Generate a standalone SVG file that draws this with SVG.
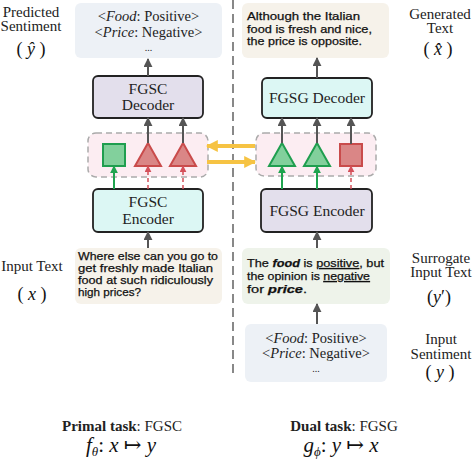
<svg xmlns="http://www.w3.org/2000/svg" width="474" height="460" viewBox="0 0 474 460">
<style>
.lbl{font-family:"Liberation Serif","Times New Roman",serif;font-size:15px;fill:#222;text-anchor:middle}
.math{font-family:"Liberation Serif","DejaVu Serif",serif;font-size:18px;fill:#111;text-anchor:middle}
.fm{font-family:"Liberation Serif","DejaVu Serif",serif;font-size:21px;fill:#111;text-anchor:middle}
.box{font-family:"Liberation Serif","Times New Roman",serif;font-size:14.5px;fill:#222;text-anchor:middle}
.mod{font-family:"Liberation Serif","Times New Roman",serif;font-size:15.5px;fill:#222;text-anchor:middle}
.cm{font-family:"Liberation Sans",Arial,sans-serif;font-size:11px;fill:#111;stroke:#111;stroke-width:0.25}
.sent{fill:#edf1f6}
.beige{fill:#f6f2ea}
.lav{fill:#e3dfec;stroke:#222;stroke-width:1.8}
.cyan{fill:#dcf7f4;stroke:#222;stroke-width:1.8}
.pink{fill:#fcedf2;stroke:#aaa;stroke-width:1.5;stroke-dasharray:6 4}
.gshape{fill:#82d09c;stroke:#1f9e4f;stroke-width:2}
.rshape{fill:#da8686;stroke:#c94b4b;stroke-width:2}
.ga{stroke:#555;stroke-width:2;fill:none}
.gr{stroke:#1fa34f;stroke-width:2;fill:none}
.rd{stroke:#d4505a;stroke-width:1.5;stroke-dasharray:4 3;fill:none}
.ye{stroke:#f6c343;stroke-width:4;fill:none}
</style>
<defs>
<marker id="mg" viewBox="0 0 10 10" refX="9" refY="5" markerWidth="9" markerHeight="9" markerUnits="userSpaceOnUse" orient="auto"><path d="M0,0 L10,5 L0,10 z" fill="#555"/></marker>
<marker id="mgr" viewBox="0 0 10 10" refX="9" refY="5" markerWidth="8" markerHeight="8" markerUnits="userSpaceOnUse" orient="auto"><path d="M0,0 L10,5 L0,10 z" fill="#1fa34f"/></marker>
<marker id="mr" viewBox="0 0 10 10" refX="9" refY="5" markerWidth="7" markerHeight="7" markerUnits="userSpaceOnUse" orient="auto"><path d="M0,0 L10,5 L0,10 z" fill="#d4505a"/></marker>
<marker id="my" viewBox="0 0 10 10" refX="9" refY="5" markerWidth="12" markerHeight="12" markerUnits="userSpaceOnUse" orient="auto"><path d="M0,0 L10,5 L0,10 z" fill="#f6c343"/></marker>
</defs>

<g id="divider"><line x1="233" y1="0" x2="233" y2="373" stroke="#888" stroke-width="2" stroke-dasharray="9 5"/></g>

<g id="labels">
<text class="lbl"><tspan x="31" y="16.5">Predicted</tspan><tspan x="31" y="31">Sentiment</tspan></text>
<text class="math" x="31" y="55">( <tspan font-style="italic">ŷ</tspan> )</text>
<text class="lbl" x="32" y="271">Input Text</text>
<text class="math" x="32" y="300">( <tspan font-style="italic">x</tspan> )</text>
<text class="lbl"><tspan x="440" y="18.5">Generated</tspan><tspan x="440" y="33">Text</tspan></text>
<text class="math" x="438" y="55">( <tspan font-style="italic">x̂</tspan> )</text>
<text class="lbl"><tspan x="441" y="262.5">Surrogate</tspan><tspan x="441" y="277">Input Text</tspan></text>
<text class="math" x="439" y="303">(<tspan font-style="italic">y</tspan>′)</text>
<text class="lbl"><tspan x="441" y="344">Input</tspan><tspan x="441" y="358.5">Sentiment</tspan></text>
<text class="math" x="440" y="378">( <tspan font-style="italic">y</tspan> )</text>
</g>

<g id="pred-sentiment">
<rect class="sent" x="75" y="3" width="147" height="55" rx="6"/>
<text class="box"><tspan x="148.5" y="21">&lt;<tspan font-style="italic">Food</tspan>: Positive&gt;</tspan><tspan x="148.5" y="37">&lt;<tspan font-style="italic">Price</tspan>: Negative&gt;</tspan><tspan x="148.5" y="51" font-size="10">...</tspan></text>
</g>

<g id="fgsc-decoder">
<rect class="lav" x="93" y="76" width="110" height="42" rx="5"/>
<text class="mod"><tspan x="148" y="94">FGSC</tspan><tspan x="148" y="110">Decoder</tspan></text>
</g>

<g id="fgsc-latent">
<rect class="pink" x="88" y="133" width="120" height="44" rx="8"/>
<rect class="gshape" x="103" y="144" width="22" height="22"/>
<polygon class="rshape" points="148,143 135,166 161,166"/>
<polygon class="rshape" points="183,143 170,166 196,166"/>
</g>

<g id="fgsc-encoder">
<rect class="cyan" x="93" y="189" width="110" height="43" rx="5"/>
<text class="mod"><tspan x="148" y="207">FGSC</tspan><tspan x="148" y="224">Encoder</tspan></text>
</g>

<g id="input-text">
<rect class="beige" x="75" y="248" width="147" height="56" rx="6"/>
<text class="cm"><tspan x="78" y="259.5" textLength="140" lengthAdjust="spacingAndGlyphs">Where else can you go to</tspan><tspan x="78" y="271.5" textLength="135" lengthAdjust="spacingAndGlyphs">get freshly made Italian</tspan><tspan x="78" y="283.5" textLength="135" lengthAdjust="spacingAndGlyphs">food at such ridiculously</tspan><tspan x="78" y="295.5" textLength="63" lengthAdjust="spacingAndGlyphs">high prices?</tspan></text>
</g>

<g id="generated-text">
<rect class="beige" x="242" y="3" width="147" height="55" rx="6"/>
<text class="cm"><tspan x="247" y="20" textLength="113" lengthAdjust="spacingAndGlyphs">Although the Italian</tspan><tspan x="247" y="32.5" textLength="125" lengthAdjust="spacingAndGlyphs">food is fresh and nice,</tspan><tspan x="247" y="45" textLength="115" lengthAdjust="spacingAndGlyphs">the price is opposite.</tspan></text>
</g>

<g id="fgsg-decoder">
<rect class="cyan" x="262" y="78" width="110" height="40" rx="5"/>
<text class="mod" x="317" y="103">FGSG Decoder</text>
</g>

<g id="fgsg-latent">
<rect class="pink" x="256" y="133" width="120" height="43" rx="8"/>
<polygon class="gshape" points="282,143 269,166 295,166"/>
<polygon class="gshape" points="317,143 304,166 330,166"/>
<rect class="rshape" x="340" y="144" width="22" height="22"/>
</g>

<g id="fgsg-encoder">
<rect class="lav" x="261" y="189" width="111" height="43" rx="5"/>
<text class="mod" x="317" y="216">FGSG Encoder</text>
</g>

<g id="surrogate-text">
<rect x="242" y="248" width="148" height="56" rx="6" fill="#eef3ea"/>
<text class="cm"><tspan x="247" y="267" textLength="137" lengthAdjust="spacingAndGlyphs">The <tspan font-weight="bold" font-style="italic">food</tspan> is <tspan text-decoration="underline">positive</tspan>, but</tspan><tspan x="247" y="280" textLength="123" lengthAdjust="spacingAndGlyphs">the opinion is <tspan text-decoration="underline">negative</tspan></tspan><tspan x="247" y="293" textLength="60" lengthAdjust="spacingAndGlyphs">for <tspan font-weight="bold" font-style="italic">price</tspan>.</tspan></text>
</g>

<g id="input-sentiment">
<rect class="sent" x="245" y="324" width="142" height="58" rx="6"/>
<text class="box"><tspan x="316" y="343">&lt;<tspan font-style="italic">Food</tspan>: Positive&gt;</tspan><tspan x="316" y="358">&lt;<tspan font-style="italic">Price</tspan>: Negative&gt;</tspan><tspan x="316" y="372" font-size="10">...</tspan></text>
</g>

<g id="connectors">
<line class="ga" x1="148" y1="76" x2="148" y2="59" marker-end="url(#mg)"/>
<line class="ga" x1="148" y1="143" x2="148" y2="118" marker-end="url(#mg)"/>
<line class="ga" x1="183" y1="143" x2="183" y2="118" marker-end="url(#mg)"/>
<line class="gr" x1="114" y1="189" x2="114" y2="166" marker-end="url(#mgr)"/>
<line class="rd" x1="148" y1="189" x2="148" y2="166" marker-end="url(#mr)"/>
<line class="rd" x1="183" y1="189" x2="183" y2="166" marker-end="url(#mr)"/>
<line class="ga" x1="148" y1="248" x2="148" y2="232" marker-end="url(#mg)"/>
<line class="ye" x1="255" y1="146" x2="207" y2="146" marker-end="url(#my)"/>
<line class="ye" x1="207" y1="162" x2="255" y2="162" marker-end="url(#my)"/>
<line class="ga" x1="317" y1="78" x2="317" y2="58" marker-end="url(#mg)"/>
<line class="ga" x1="282" y1="143" x2="282" y2="118" marker-end="url(#mg)"/>
<line class="ga" x1="317" y1="143" x2="317" y2="118" marker-end="url(#mg)"/>
<line class="ga" x1="351" y1="144" x2="351" y2="118" marker-end="url(#mg)"/>
<line class="gr" x1="282" y1="189" x2="282" y2="166" marker-end="url(#mgr)"/>
<line class="gr" x1="317" y1="189" x2="317" y2="166" marker-end="url(#mgr)"/>
<line class="rd" x1="351" y1="189" x2="351" y2="166" marker-end="url(#mr)"/>
<line class="ga" x1="317" y1="248" x2="317" y2="232" marker-end="url(#mg)"/>
<line class="ga" x1="317" y1="324" x2="317" y2="304" marker-end="url(#mg)"/>
</g>

<g id="tasks">
<text class="lbl" x="122" y="431"><tspan font-weight="bold">Primal task</tspan>: FGSC</text>
<text class="fm" x="121" y="452"><tspan font-style="italic">f</tspan><tspan font-style="italic" font-size="13" dy="4">θ</tspan><tspan dy="-4">: </tspan><tspan font-style="italic">x</tspan><tspan> ↦ </tspan><tspan font-style="italic">y</tspan></text>
<text class="lbl" x="344" y="431"><tspan font-weight="bold">Dual task</tspan>: FGSG</text>
<text class="fm" x="341" y="452"><tspan font-style="italic">g</tspan><tspan font-style="italic" font-size="13" dy="4">ϕ</tspan><tspan dy="-4">: </tspan><tspan font-style="italic">y</tspan><tspan> ↦ </tspan><tspan font-style="italic">x</tspan></text>
</g>
</svg>
